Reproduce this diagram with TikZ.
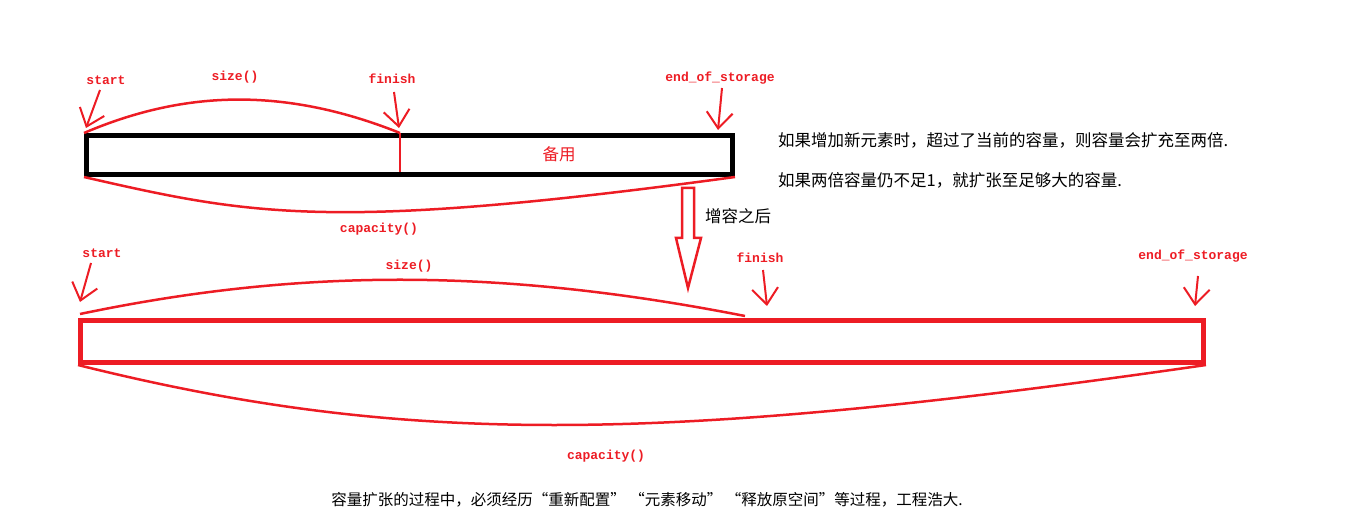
\documentclass[tikz,border=0pt]{standalone}
\usepackage{fontspec}
\setmonofont{Liberation Mono}
\newfontfamily\cjk{Noto Sans CJK SC}
\usetikzlibrary{arrows.meta}
\definecolor{pred}{RGB}{237,28,36}
\begin{document}
\begin{tikzpicture}[x=1pt,y=-1pt,
  lbl/.style={text=pred,font=\ttfamily\bfseries\fontsize{13}{13}\selectfont,inner sep=0pt},
  cn/.style={font=\cjk\fontsize{16.5}{16.5}\selectfont,inner sep=0pt},
  ptr/.style={draw=pred,line width=2pt,-{Straight Barb[length=16pt,width=26pt,line width=2pt]}},
  curve/.style={draw=pred,line width=2.5pt}]
\useasboundingbox (0,0) rectangle (1351,521);
% top
\node[draw=black,line width=5pt,minimum width=646pt,minimum height=39pt,inner sep=0pt,anchor=north west] (box1) at (84,133) {};
\coordinate (f1) at (400,133);
\coordinate (f1b) at (400,172);
\draw[pred,line width=2pt] (f1) -- (f1b);
\node[cn,text=pred] (by) at (559,154) {备用};
\node[lbl] (ls1) at (106,80) {start};
\node[lbl] (lz1) at (235,77) {size()};
\node[lbl] (lf1) at (392,79) {finish};
\node[lbl] (le1) at (720,78) {end\_of\_storage};
\node[lbl] (lc1) at (379,229) {capacity()};
\coordinate (as1) at (100,90); \coordinate (at1) at (86,128);
\coordinate (af1) at (394,92); \coordinate (aft1) at (399,128);
\coordinate (ae1) at (722,88); \coordinate (aet1) at (718,130);
\draw[ptr] (as1) -- (at1);
\draw[ptr] (af1) -- (aft1);
\draw[ptr] (ae1) -- (aet1);
\draw[curve] (box1.north west) .. controls (180,92) and (280,85) .. (f1);
\draw[curve] (box1.south west) .. controls (250,215) and (330,232) .. (box1.south east);
% hollow arrow
\draw[pred,line width=2.5pt] (682,188) -- (694,188) -- (694,238) -- (701,238) -- (688,288) -- (676,238) -- (682,238) -- cycle;
\node[cn] (zr) at (738,216) {增容之后};
\node[cn,anchor=west] (t1) at (778,140) {如果增加新元素时，超过了当前的容量，则容量会扩充至两倍.};
\node[cn,anchor=west] (t2) at (778,180) {如果两倍容量仍不足1，就扩张至足够大的容量.};
% bottom
\node[draw=pred,line width=5pt,minimum width=1123pt,minimum height=42pt,inner sep=0pt,anchor=north west] (box2) at (78,318) {};
\node[lbl] (ls2) at (102,253) {start};
\node[lbl] (lz2) at (409,266) {size()};
\node[lbl] (lf2) at (760,258) {finish};
\node[lbl] (le2) at (1193,256) {end\_of\_storage};
\node[lbl] (lc2) at (606,456) {capacity()};
\coordinate (as2) at (91,263); \coordinate (at2) at (80,302);
\coordinate (af2) at (763,270); \coordinate (aft2) at (767,306);
\coordinate (ae2) at (1198,276); \coordinate (aet2) at (1195,306);
\draw[ptr] (as2) -- (at2);
\draw[ptr] (af2) -- (aft2);
\draw[ptr] (ae2) -- (aet2);
\coordinate (z2) at (745,316);
\draw[curve] (80,314) .. controls (300,268) and (500,268) .. (z2);
\draw[curve] (box2.south west) .. controls (400,445) and (650,445) .. (box2.south east);
\node[cn,font=\cjk\fontsize{15.5}{15.5}\selectfont] (bt) at (647,500) {容量扩张的过程中，必须经历“重新配置” “元素移动” “释放原空间”等过程，工程浩大.};
\end{tikzpicture}
\end{document}
